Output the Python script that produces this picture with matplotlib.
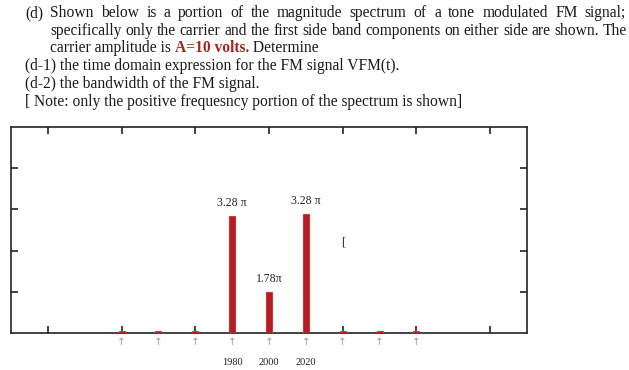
import matplotlib
matplotlib.use("Agg")
import matplotlib.pyplot as plt

plt.rcParams['font.family'] = ['Liberation Serif', 'DejaVu Serif']

# spectrum lines (Hz) and heights as drawn
freqs = [1920, 1940, 1960, 1980, 2000, 2020, 2040, 2060, 2080]
heights = [0.05, 0.05, 0.05, 2.85, 1.0, 2.9, 0.05, 0.05, 0.05]
bar_labels = {1980: '3.28 π', 2000: '1.78π', 2020: '3.28 π'}
xtick_labels = [1980, 2000, 2020]
top_ticks = [1880, 1920, 1960, 2000, 2040, 2080, 2120]
y_ticks = [1, 2, 3, 4]

# justified lines: (x start, x end, y, text)
justified = [
    (25, 626, 13, "(d) Shown below is a portion of the magnitude spectrum of a tone modulated FM signal;"),
    (50, 627, 31, "specifically only the carrier and the first side band components on either side are shown. The"),
]
plain = [
    (25, 66, "(d-1) the time domain expression for the FM signal VFM(t)."),
    (25, 84, "(d-2) the bandwidth of the FM signal."),
    (25, 102, "[ Note: only the positive frequesncy portion of the spectrum is shown]"),
]

W, H = 629, 370
fig = plt.figure(figsize=(W / 100, H / 100), dpi=100)
r = fig.canvas.get_renderer()
fs = 11.2
tc = '#1a1a1a'

def fx(px):
    return px / W

def fy(py):
    return 1 - py / H

for x0, x1, y, s in justified:
    words = s.split(' ')
    objs = [fig.text(0, fy(y), w, fontsize=fs, va='center', ha='left', color=tc) for w in words]
    widths = [o.get_window_extent(r).width for o in objs]
    gap = (x1 - x0 - sum(widths)) / (len(words) - 1)
    x = x0
    for o, w in zip(objs, widths):
        o.set_x(fx(x))
        x += w + gap

for x, y, s in plain:
    fig.text(fx(x), fy(y), s, fontsize=fs, va='center', ha='left', color=tc)

# third line with the red amplitude part
t1 = fig.text(fx(50), fy(48), "carrier amplitude is ", fontsize=fs, va='center', color=tc)
e1 = t1.get_window_extent(r)
t2 = fig.text(e1.x1 / W, fy(48), "A=10 volts.", fontsize=fs, va='center',
              color='#a3271f', fontweight='bold')
e2 = t2.get_window_extent(r)
fig.text(e2.x1 / W, fy(48), " Determine", fontsize=fs, va='center', color=tc)

ax = fig.add_axes([fx(11), fy(333), fx(527) - fx(11), fy(127) - fy(333)])
ax.bar(freqs, heights, width=3.2, color='#b01e28', edgecolor='#e03030', linewidth=0.8, zorder=3)
ax.set_xlim(1860, 2140)
ax.set_ylim(0, 5)

ax.set_xticks(top_ticks)
ax.set_xticklabels([])
ax.set_yticks(y_ticks)
ax.set_yticklabels([])
ax.tick_params(direction='in', length=5, width=1.2, top=True, right=True, colors='#222222')
for sp in ax.spines.values():
    sp.set_linewidth(1.2)
    sp.set_color('#222222')

for f, lab in bar_labels.items():
    h = heights[freqs.index(f)]
    ax.annotate(lab, (f, h), xytext=(0, 5), textcoords='offset points',
                ha='center', va='bottom', fontsize=8.5, color='#222222')

for f in freqs:
    ax.annotate('↑', (f, 0), xytext=(0, -3), textcoords='offset points',
                ha='center', va='top', fontsize=7.5, color='#b09595',
                family='DejaVu Sans', annotation_clip=False)

for f in xtick_labels:
    ax.annotate(str(f), (f, 0), xytext=(0, -18), textcoords='offset points',
                ha='center', va='top', fontsize=7.5, color='#222222',
                annotation_clip=False)

ax.text(2040, 2.2, '[', ha='center', va='center', fontsize=9, color='#222222')

fig.savefig('out.png', dpi=100)
